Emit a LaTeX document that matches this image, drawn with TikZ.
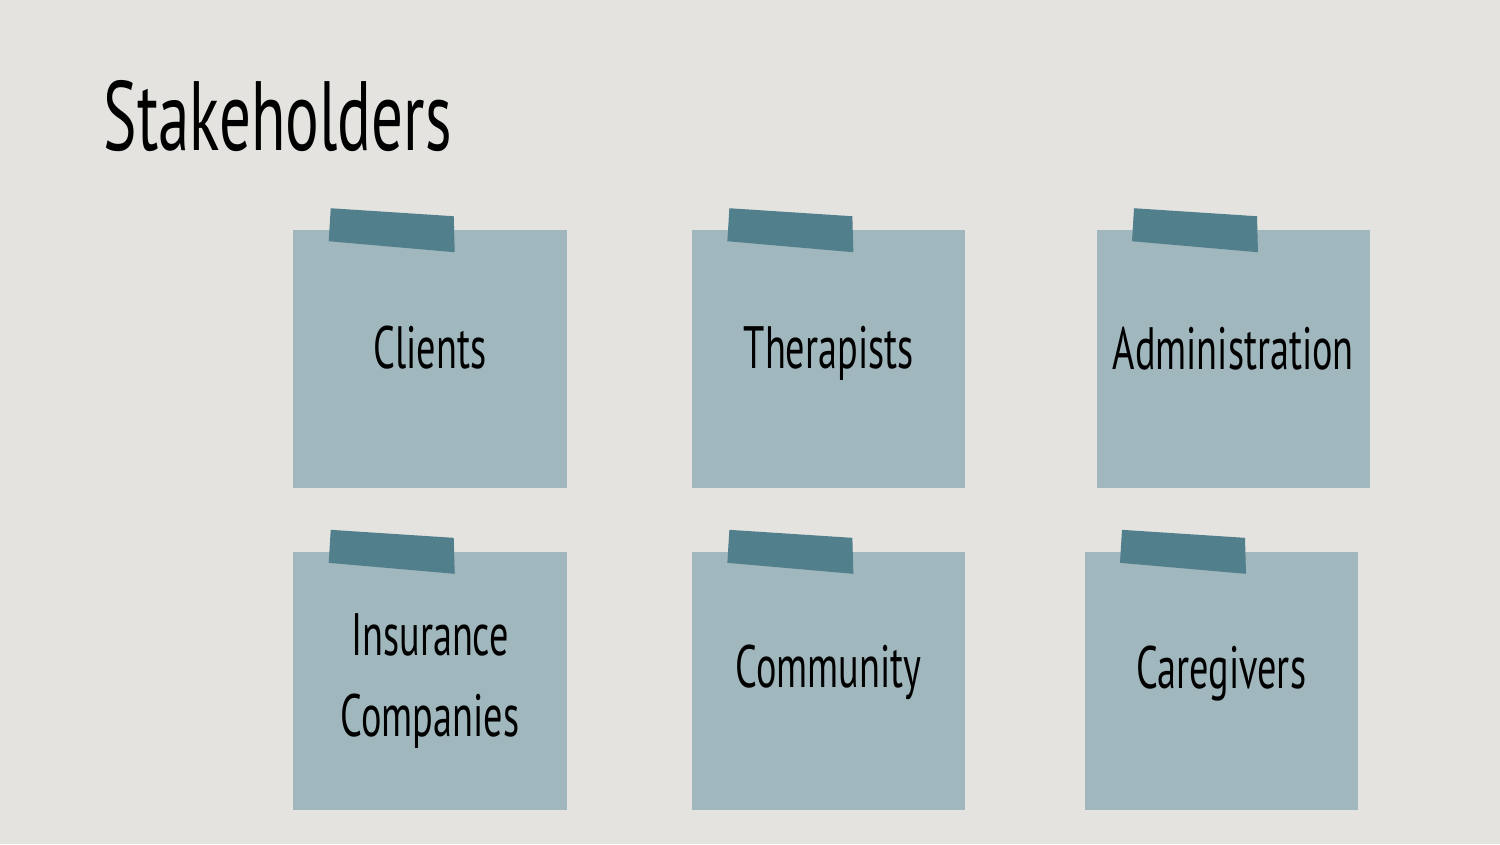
\documentclass[tikz,border=0pt]{standalone}
\usepackage{fontspec}
\newfontfamily\handfont[FakeStretch=0.64]{PT Sans}
\usetikzlibrary{positioning}

\definecolor{paper}{RGB}{228,227,223}
\definecolor{notefill}{RGB}{160,183,189}
\definecolor{tapefill}{RGB}{82,127,140}

% a strip of tape on the top left of a note
\newcommand{\tape}[1]{\fill[tapefill] ([shift={(38,-21)}]#1.north west) -- ([shift={(161,-13)}]#1.north west)
  -- ([shift={(162,23)}]#1.north west) -- ([shift={(36,12)}]#1.north west) -- cycle;}

\begin{document}
\begin{tikzpicture}[x=0.01cm,y=-0.01cm,
                    note/.style={rectangle,fill=notefill,minimum width=2.73cm,minimum height=2.58cm,inner sep=0pt},
                    word/.style={font=\handfont\fontsize{17}{23}\selectfont,inner sep=0pt,align=center}]
	  \fill[paper] (0,0) rectangle (1500,844);

	  \node[anchor=base west,inner sep=0pt,font=\handfont\fontsize{28}{30}\selectfont] (title) at (103,150) {Stakeholders};

	  % notes
	  \node[note] (clients) at (430,359) {};
	  \node[note] (therapists) [right=1.24cm of clients] {};
	  \node[note] (admin) [right=1.30cm of therapists] {};
	  \node[note] (insurance) [below=0.62cm of clients] {};
	  \node[note] (community) [below=0.62cm of therapists] {};
	  \node[note] (caregivers) [right=1.18cm of community] {};

	  \tape{clients} \tape{therapists} \tape{admin}
	  \tape{insurance} \tape{community} \tape{caregivers}

	  % labels
	  \node[word,anchor=base] (clientsT) at ([yshift=-0.09cm]clients.center) {Clients};
	  \node[word,anchor=base] (therapistsT) at ([yshift=-0.09cm]therapists.center) {Therapists};
	  \node[word,anchor=base] (adminT) at ([yshift=-0.1cm]admin.center) {Administration};
	  \node[word] (insuranceT) at (insurance.center) {Insurance\\Companies};
	  \node[word,anchor=base] (communityT) at ([yshift=-0.07cm]community.center) {Community};
	  \node[word,anchor=base] (caregiversT) at ([yshift=-0.08cm]caregivers.center) {Caregivers};
	\end{tikzpicture}
\end{document}
